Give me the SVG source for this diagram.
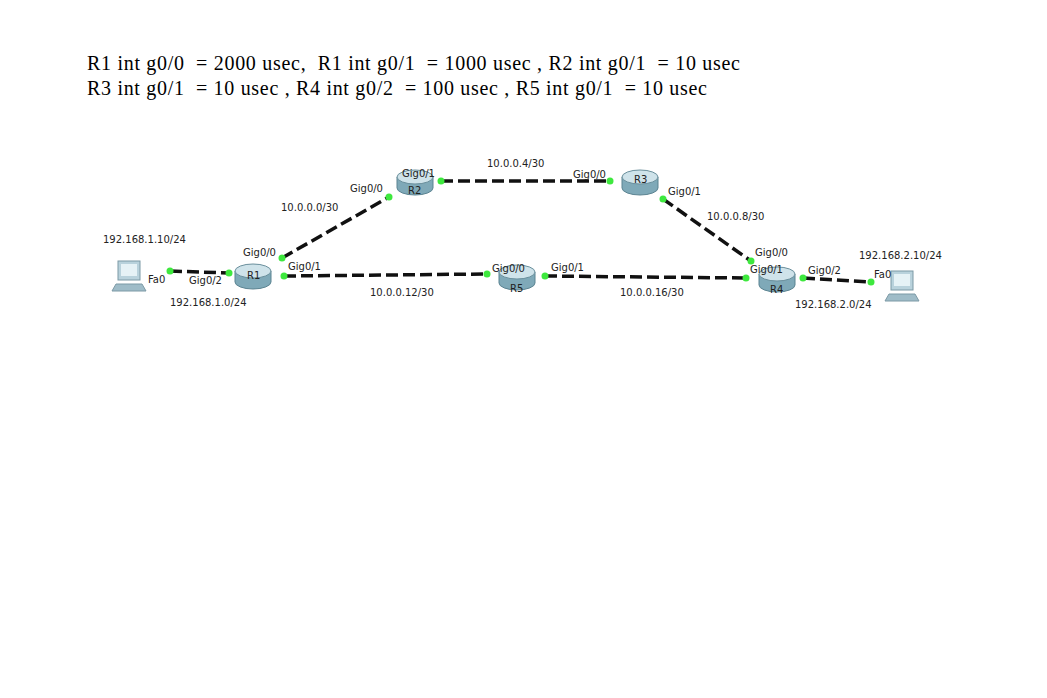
<svg xmlns="http://www.w3.org/2000/svg" width="1047" height="698" viewBox="0 0 1047 698">
<defs>
<style>
.hdr{font-family:"Liberation Serif",serif;font-size:20px;fill:#000;white-space:pre}
.lb{font-family:"DejaVu Sans","Liberation Sans",sans-serif;font-size:10px;fill:#222}
.ln{stroke:#111;stroke-width:3.5;stroke-dasharray:12,5;fill:none}
.dot{fill:#3ee83e}
.rtop{fill:#cfe3ea;stroke:#6a8f9c;stroke-width:1}
.rbody{fill:#7fa9b8;stroke:#5b8391;stroke-width:1}
</style>
<g id="router">
<path class="rbody" d="M-18,-5 v11 a18,7 0 0 0 36,0 v-11 z"/>
<ellipse class="rtop" cx="0" cy="-5" rx="18" ry="7"/>
</g>
<g id="pc">
<rect x="-15" y="-19" width="22" height="19" fill="#b9d2dc" stroke="#7d9aa6"/>
<rect x="-12" y="-16" width="16" height="12" fill="#e6f2f6"/>
<path d="M-17,4 h26 l4,7 h-34 z" fill="#9fbcc8" stroke="#7d9aa6"/>
</g>
</defs>
<rect width="1047" height="698" fill="#fff"/>
<text class="hdr" xml:space="preserve" x="87" y="70" textLength="653" lengthAdjust="spacing">R1 int g0/0  = 2000 usec,  R1 int g0/1  = 1000 usec , R2 int g0/1  = 10 usec</text>
<text class="hdr" xml:space="preserve" x="87" y="95" textLength="620" lengthAdjust="spacing">R3 int g0/1  = 10 usec , R4 int g0/2  = 100 usec , R5 int g0/1  = 10 usec</text>
<g id="connectors">
<line class="ln" x1="170" y1="271" x2="229" y2="273"/>
<line class="ln" x1="282" y1="258" x2="389" y2="197"/>
<line class="ln" x1="441" y1="181" x2="610" y2="181"/>
<line class="ln" x1="663" y1="199" x2="751" y2="261"/>
<line class="ln" x1="284" y1="276" x2="487" y2="274"/>
<line class="ln" x1="545" y1="276" x2="746" y2="278"/>
<line class="ln" x1="803" y1="278" x2="871" y2="282"/>
<g class="dot">
<circle cx="170" cy="271" r="3.5"/><circle cx="229" cy="273" r="3.5"/>
<circle cx="282" cy="258" r="3.5"/><circle cx="389" cy="197" r="3.5"/>
<circle cx="441" cy="181" r="3.5"/><circle cx="610" cy="181" r="3.5"/>
<circle cx="663" cy="199" r="3.5"/><circle cx="751" cy="261" r="3.5"/>
<circle cx="284" cy="276" r="3.5"/><circle cx="487" cy="274" r="3.5"/>
<circle cx="545" cy="276" r="3.5"/><circle cx="746" cy="278" r="3.5"/>
<circle cx="803" cy="278" r="3.5"/><circle cx="871" cy="282" r="3.5"/>
</g>
<text class="lb" x="281" y="211">10.0.0.0/30</text>
<text class="lb" x="487" y="167">10.0.0.4/30</text>
<text class="lb" x="707" y="220">10.0.0.8/30</text>
<text class="lb" x="370" y="296">10.0.0.12/30</text>
<text class="lb" x="620" y="296">10.0.0.16/30</text>
<text class="lb" x="170" y="306">192.168.1.0/24</text>
<text class="lb" x="795" y="308">192.168.2.0/24</text>
</g>
<g id="PC1"><use href="#pc" x="133" y="280"/>
<text class="lb" x="148" y="283">Fa0</text><text class="lb" x="103" y="243">192.168.1.10/24</text></g>
<g id="R1"><use href="#router" x="253" y="276"/>
<text class="lb" x="247" y="279">R1</text><text class="lb" x="189" y="284">Gig0/2</text>
<text class="lb" x="243" y="256">Gig0/0</text><text class="lb" x="288" y="270">Gig0/1</text></g>
<g id="R2"><use href="#router" x="415" y="182"/>
<text class="lb" x="408" y="194">R2</text><text class="lb" x="402" y="177">Gig0/1</text>
<text class="lb" x="350" y="192">Gig0/0</text></g>
<g id="R3"><use href="#router" x="640" y="182"/>
<text class="lb" x="634" y="183">R3</text><text class="lb" x="573" y="178">Gig0/0</text>
<text class="lb" x="668" y="195">Gig0/1</text></g>
<g id="R5"><use href="#router" x="517" y="277"/>
<text class="lb" x="510" y="292">R5</text><text class="lb" x="492" y="272">Gig0/0</text>
<text class="lb" x="551" y="271">Gig0/1</text></g>
<g id="R4"><use href="#router" x="777" y="279"/>
<text class="lb" x="770" y="293">R4</text><text class="lb" x="755" y="256">Gig0/0</text>
<text class="lb" x="750" y="273">Gig0/1</text><text class="lb" x="808" y="274">Gig0/2</text></g>
<g id="PC2"><use href="#pc" x="906" y="290"/>
<text class="lb" x="874" y="278">Fa0</text><text class="lb" x="859" y="259">192.168.2.10/24</text></g>
</svg>
